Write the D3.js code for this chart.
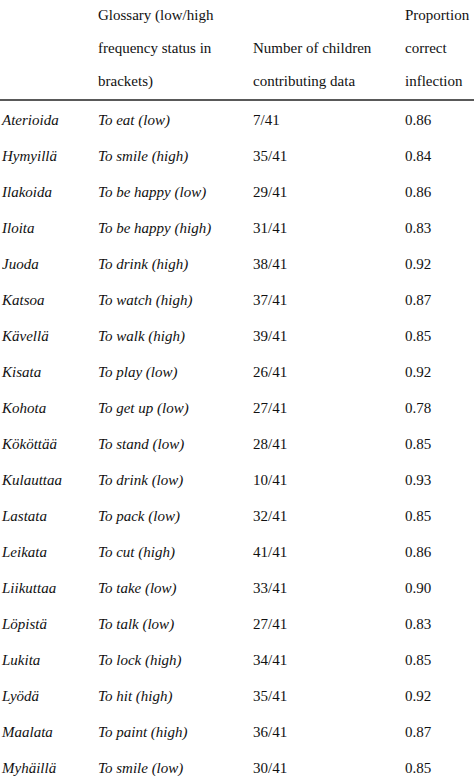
<!DOCTYPE html>
<html><head><meta charset="utf-8">
<script src="https://cdn.jsdelivr.net/npm/d3@7"></script>
<style>body{margin:0;background:#fff} text{font-family:"Liberation Serif","Times New Roman",Times,"DejaVu Serif",serif;font-size:15px;fill:#111}</style></head>
<body><svg id="c" width="474" height="776"></svg>
<script>
const verbs=["Aterioida","Hymyillä","Ilakoida","Iloita","Juoda","Katsoa","Kävellä","Kisata","Kohota","Kököttää","Kulauttaa","Lastata","Leikata","Liikuttaa","Löpistä","Lukita","Lyödä","Maalata","Myhäillä"];
const glossary=["To eat (low)","To smile (high)","To be happy (low)","To be happy (high)","To drink (high)","To watch (high)","To walk (high)","To play (low)","To get up (low)","To stand (low)","To drink (low)","To pack (low)","To cut (high)","To take (low)","To talk (low)","To lock (high)","To hit (high)","To paint (high)","To smile (low)"];
const children=["7/41","35/41","29/41","31/41","38/41","37/41","39/41","26/41","27/41","28/41","10/41","32/41","41/41","33/41","27/41","34/41","35/41","36/41","30/41"];
const proportion=[0.86,0.84,0.86,0.83,0.92,0.87,0.85,0.92,0.78,0.85,0.93,0.85,0.86,0.90,0.83,0.85,0.92,0.87,0.85];
const headers=[[],["Glossary (low/high","frequency status in","brackets)"],["","Number of children","contributing data"],["Proportion","correct","inflection"]];
const svg=d3.select("#c");
const colX=d3.scaleOrdinal().domain([0,1,2,3]).range([2,98,253,405]);
const y=d3.scalePoint().domain(d3.range(verbs.length)).range([120,768]);
const hy=d3.scalePoint().domain([0,1,2]).range([15,81]);
headers.forEach((h,c)=>h.forEach((t,i)=>svg.append("text").attr("x",colX(c)).attr("y",hy(i)+5).text(t)));
svg.append("line").attr("x1",0).attr("x2",474).attr("y1",100).attr("y2",100).attr("stroke","#222").attr("stroke-width",1.6);
const cols=[verbs,glossary,children,proportion.map(d3.format(".2f"))];
cols.forEach((arr,c)=>svg.selectAll(null).data(arr).join("text").attr("x",colX(c)).attr("y",(d,i)=>y(i)+5)
 .style("font-style",c<2?"italic":"normal").text(d=>d));
</script></body></html>
